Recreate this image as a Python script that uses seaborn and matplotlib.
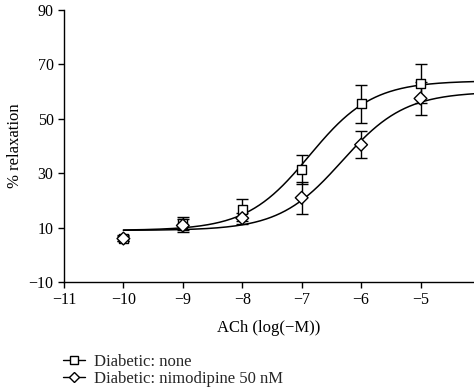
import numpy as np
import pandas as pd
import matplotlib
matplotlib.use("Agg")
import matplotlib.pyplot as plt
import seaborn as sns
from matplotlib.lines import Line2D

sns.set_theme(style="ticks")
plt.rcParams['font.family'] = ['Liberation Serif', 'DejaVu Serif']

log_ach = [-10, -9, -8, -7, -6, -5]
none_mean = [6.2, 11.5, 16.5, 31.5, 55.5, 63.0]
none_err = [1.0, 2.5, 4.0, 5.3, 7.0, 7.2]
nimo_mean = [6.0, 10.8, 13.5, 21.0, 40.5, 57.5]
nimo_err = [1.0, 2.5, 2.0, 5.8, 5.0, 6.2]

# fitted sigmoid parameters (bottom, top, logEC50, hill)
none_fit = (9.0, 64.0, -6.87, 0.82)
nimo_fit = (9.0, 60.0, -6.32, 0.82)

labels = ["Diabetic: none", "Diabetic: nimodipine 50 nM"]
xticks = [-11, -10, -9, -8, -7, -6, -5]
yticks = [-10, 10, 30, 50, 70, 90]

def hill(x, p):
    b, t, ec, h = p
    return b + (t - b) / (1 + 10 ** ((ec - x) * h))

xs = np.linspace(-10, -4.1, 300)
curves = pd.concat([
    pd.DataFrame({"x": xs, "y": hill(xs, none_fit), "g": labels[0]}),
    pd.DataFrame({"x": xs, "y": hill(xs, nimo_fit), "g": labels[1]}),
])

fig = plt.figure(figsize=(4.74, 3.88), dpi=100)
ax = fig.add_axes([0.135, 0.273, 0.865, 0.701])

sns.lineplot(data=curves, x="x", y="y", units="g", estimator=None,
             color="black", lw=1.1, ax=ax, legend=False)

ax.errorbar(log_ach, none_mean, yerr=none_err, fmt="none", ecolor="black",
            elinewidth=1.0, capsize=4, capthick=1.0, zorder=3)
ax.errorbar(log_ach, nimo_mean, yerr=nimo_err, fmt="none", ecolor="black",
            elinewidth=1.0, capsize=4, capthick=1.0, zorder=3)

pts = pd.concat([
    pd.DataFrame({"x": log_ach, "y": none_mean, "g": labels[0]}),
    pd.DataFrame({"x": log_ach, "y": nimo_mean, "g": labels[1]}),
])
sns.scatterplot(data=pts, x="x", y="y", style="g", markers={labels[0]: "s", labels[1]: "D"},
                facecolor="white", edgecolor="black", linewidth=1.0, s=42,
                ax=ax, legend=False, zorder=4)

ax.set_xlim(-11, -4.1)
ax.set_ylim(-10, 90)
ax.set_xticks(xticks)
ax.set_yticks(yticks)
ax.set_xticklabels([f"\u2212{abs(v)}" for v in xticks])
ax.set_yticklabels([f"\u2212{abs(v)}" if v < 0 else str(v) for v in yticks])
ax.tick_params(labelsize=11.5, length=4, width=1, color="black", labelcolor="black")
for s in ["top", "right"]:
    ax.spines[s].set_visible(False)
for s in ["left", "bottom"]:
    ax.spines[s].set_color("black")
    ax.spines[s].set_linewidth(1)

ax.set_xlabel("ACh (log(\u2212M))", fontsize=12, color="black", labelpad=8)
ax.set_ylabel("% relaxation", fontsize=12, color="black", labelpad=4)

handles = [
    Line2D([], [], color="black", lw=1, marker="s", mfc="white", mec="black", ms=6),
    Line2D([], [], color="black", lw=1, marker="D", mfc="white", mec="black", ms=5.5),
]
fig.legend(handles, labels, loc="lower left", bbox_to_anchor=(0.112, -0.022),
           frameon=False, fontsize=12, handlelength=1.3, handletextpad=0.55,
           labelspacing=0.05, borderaxespad=0.2)

fig.savefig("out.png", dpi=100)
